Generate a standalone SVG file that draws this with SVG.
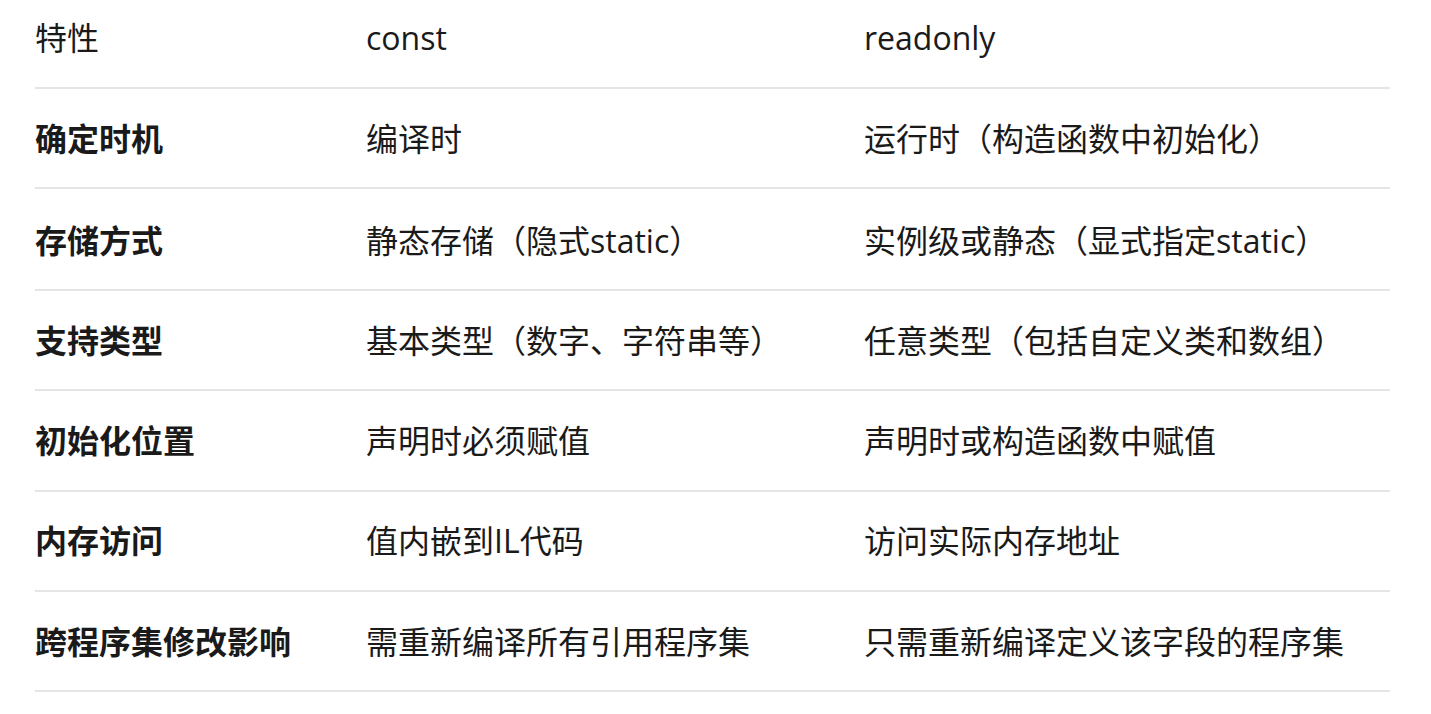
<svg xmlns="http://www.w3.org/2000/svg" width="1431" height="714" viewBox="0 0 1431 714">
<style>
text{font-family:"Open Sans","Noto Sans CJK SC",sans-serif;font-size:32px;fill:#1a1a1a}
.b{font-weight:bold}
line{stroke:#dcdcdc;stroke-width:1.5}
</style>
<rect width="1431" height="714" fill="#fff"/>
<g id="lines">
<line x1="35" y1="88" x2="1390" y2="88"/>
<line x1="35" y1="188" x2="1390" y2="188"/>
<line x1="35" y1="290" x2="1390" y2="290"/>
<line x1="35" y1="390" x2="1390" y2="390"/>
<line x1="35" y1="491" x2="1390" y2="491"/>
<line x1="35" y1="591" x2="1390" y2="591"/>
<line x1="35" y1="691" x2="1390" y2="691"/>
</g>
<g id="header"><text x="35" y="50">特性</text><text x="366" y="50">const</text><text x="864" y="50">readonly</text></g>
<g id="r1"><text class="b" x="35" y="151">确定时机</text><text x="366" y="151">编译时</text><text x="864" y="151">运行时（构造函数中初始化）</text></g>
<g id="r2"><text class="b" x="35" y="253">存储方式</text><text x="366" y="253">静态存储（隐式static）</text><text x="864" y="253">实例级或静态（显式指定static）</text></g>
<g id="r3"><text class="b" x="35" y="353">支持类型</text><text x="366" y="353">基本类型（数字、字符串等）</text><text x="864" y="353">任意类型（包括自定义类和数组）</text></g>
<g id="r4"><text class="b" x="35" y="453">初始化位置</text><text x="366" y="453">声明时必须赋值</text><text x="864" y="453">声明时或构造函数中赋值</text></g>
<g id="r5"><text class="b" x="35" y="553">内存访问</text><text x="366" y="553">值内嵌到IL代码</text><text x="864" y="553">访问实际内存地址</text></g>
<g id="r6"><text class="b" x="35" y="654">跨程序集修改影响</text><text x="366" y="654">需重新编译所有引用程序集</text><text x="864" y="654">只需重新编译定义该字段的程序集</text></g>
</svg>
